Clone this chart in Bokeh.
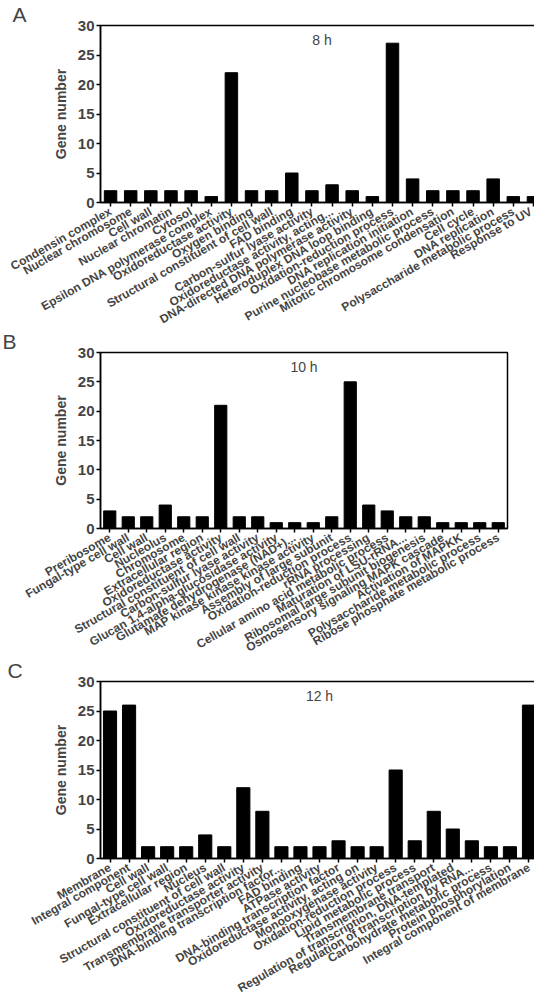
from bokeh.plotting import figure
from bokeh.layouts import column
from bokeh.models import Label, FactorRange, FixedTicker
from bokeh.embed import file_html
from bokeh.resources import INLINE

# ---- data ----
cats_a = ["Condensin complex", "Nuclear chromosome", "Cell wall", "Nuclear chromatin", "Cytosol",
          "Epsilon DNA polymerase complex", "Oxidoreductase activity", "Oxygen binding",
          "Structural constituent of cell wall", "FAD binding", "Carbon-sulfur lyase activity",
          "Oxidoreductase activity, acting...", "DNA-directed DNA polymerase activity",
          "Heteroduplex DNA loop binding", "Oxidation-reduction process", "DNA replication initiation",
          "Purine nucleobase metabolic process", "Mitotic chromosome condensation", "Cell cycle",
          "DNA replication", "Polysaccharide metabolic process", "Response to UV"]
vals_a = [2, 2, 2, 2, 2, 1, 22, 2, 2, 5, 2, 3, 2, 1, 27, 4, 2, 2, 2, 4, 1, 1]

cats_b = ["Preribosome", "Fungal-type cell wall", "Cell wall", "Nucleolus", "Chromosome",
          "Extracellular region", "Oxidoreductase activity", "Structural constituent of cell wall",
          "Carbon-sulfur lyase activity", "Glucan 1,4-alpha-glucosidase activity",
          "Glutamate dehydrogenase (NAD+)...", "MAP kinase kinase kinase activity",
          "Assembly of large subunit", "Oxidation-reduction process", "rRNA processing",
          "Cellular amino acid metabolic process", "Maturation of LSU-rRNA...",
          "Ribosomal large subunit biogenesis", "Osmosensory signaling MAPK cascade",
          "Activation of MAPKK", "Polysaccharide metabolic process", "Ribose phosphate metabolic process"]
vals_b = [3, 2, 2, 4, 2, 2, 21, 2, 2, 1, 1, 1, 2, 25, 4, 3, 2, 2, 1, 1, 1, 1]

cats_c = ["Membrane", "Integral component", "Cell wall", "Fungal-type cell wall", "Extracellular region",
          "Nucleus", "Structural constituent of cell wall", "Oxidoreductase activity",
          "Transmembrane transporter activity", "DNA-binding transcription factor...", "FAD binding",
          "ATPase activity", "DNA-binding transcription factor", "Oxidoreductase activity, acting on",
          "Monooxygenase activity", "Oxidation-reduction process", "Lipid metabolic process",
          "Transmembrane transport", "Regulation of transcription, DNA-templated",
          "Regulation of transcription by RNA...", "Carbohydrate metabolic process",
          "Protein phosphorylation", "Integral component of membrane"]
vals_c = [25, 26, 2, 2, 2, 4, 2, 12, 8, 2, 2, 2, 3, 2, 2, 15, 3, 8, 5, 3, 2, 2, 26]

y_ticks = [0, 5, 10, 15, 20, 25, 30]
titles = ["8 h", "10 h", "12 h"]
letters = ["A", "B", "C"]

FONT = "Liberation Sans"
W = 534
BOTTOM = 150   # generous room for the slanted category names


def panel(cats, vals, title, letter, left, frame_w, top, frame_h, bar_w, letter_x, shift):
    p = figure(x_range=FactorRange(*cats, range_padding=0), y_range=(0, 30),
               frame_width=frame_w, frame_height=frame_h,
               output_backend="svg", toolbar_location=None,
               min_border_left=left, min_border_right=W - left - frame_w, min_border_top=top,
               min_border_bottom=BOTTOM, margin=(shift, 0, 0, 0),
               border_fill_color=None)
    p.vbar(x=cats, top=vals, width=bar_w, color="black")
    p.xgrid.visible = False
    p.ygrid.visible = False
    p.outline_line_color = "black"
    p.outline_line_width = 1.5

    p.title.text = letter
    p.title.align = "left"
    p.title.offset = letter_x - left
    p.title.standoff = 0
    p.title.text_font = FONT
    p.title.text_font_style = "normal"
    p.title.text_font_size = "21px"
    p.title.vertical_align = "bottom"

    p.yaxis.ticker = FixedTicker(ticks=y_ticks)
    p.yaxis.minor_tick_line_color = None
    p.yaxis.major_tick_in = 0
    p.yaxis.major_tick_out = 4
    p.yaxis.major_tick_line_width = 1.5
    p.yaxis.axis_line_width = 1.5
    p.yaxis.major_label_text_font = FONT
    p.yaxis.major_label_text_font_style = "bold"
    p.yaxis.major_label_text_font_size = "15px"
    p.yaxis.major_label_standoff = 2
    p.yaxis.axis_label = "Gene number"
    p.yaxis.axis_label_text_font = FONT
    p.yaxis.axis_label_text_font_style = "bold"
    p.yaxis.axis_label_text_font_size = "14px"
    p.yaxis.axis_label_standoff = 6

    p.xaxis.major_label_orientation = 0.52
    p.xaxis.major_label_text_font = FONT
    p.xaxis.major_label_text_font_style = "bold"
    p.xaxis.major_label_text_font_size = "12px"
    p.xaxis.major_label_standoff = 4
    p.xaxis.major_tick_in = 0
    p.xaxis.major_tick_out = 4
    p.xaxis.major_tick_line_width = 1.5
    p.xaxis.axis_line_width = 1.5

    p.add_layout(Label(x=len(cats) / 2, y=27.6, text=title, text_align="center",
                       text_baseline="middle", text_font=FONT, text_font_size="14px"))
    return p


# panel slots of ~330 px; each figure is taller (room for labels) so the next is pulled up
pa = panel(cats_a, vals_a, titles[0], letters[0], 88, 443, 25, 177, 0.62, 0, 0)
pb = panel(cats_b, vals_b, titles[1], letters[1], 100, 407, 23, 176, 0.66, 2,
           327 - (25 + 177 + BOTTOM))
pc = panel(cats_c, vals_c, titles[2], letters[2], 95, 438, 22, 177, 0.69, 2,
           327 - (23 + 176 + BOTTOM))

layout = column(pa, pb, pc, spacing=0)
open("out.html", "w").write(file_html(layout, INLINE))
